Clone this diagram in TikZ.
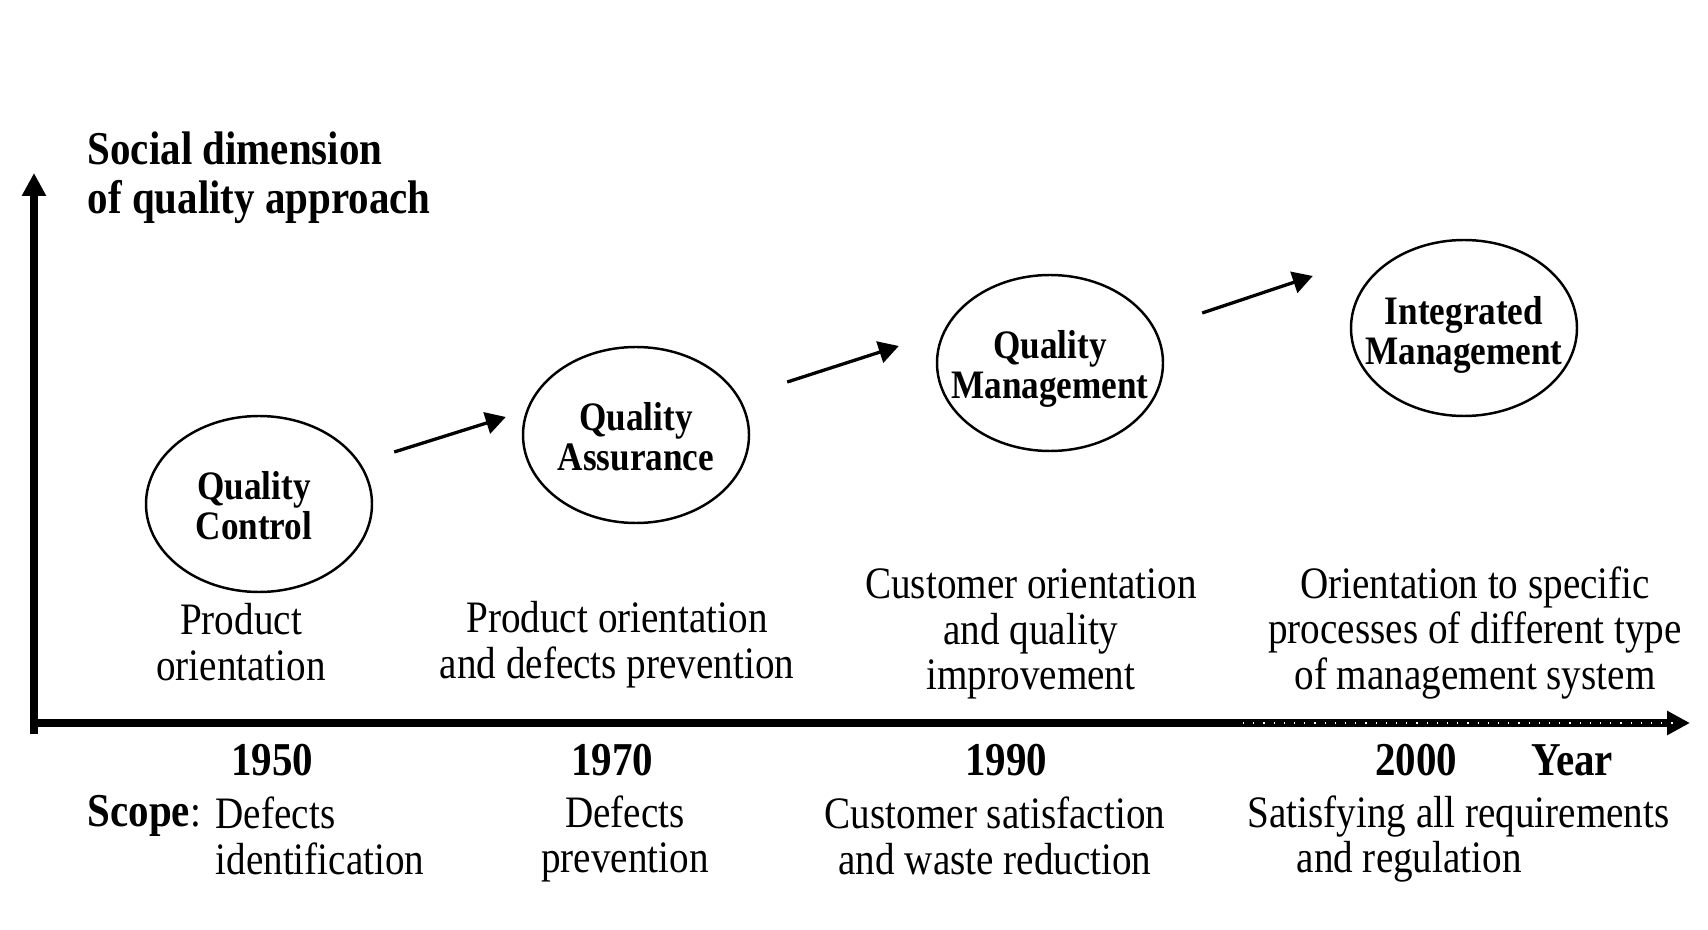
\documentclass[tikz,border=0pt]{standalone}
\usepackage{fontspec}
\setmainfont{Liberation Serif}[FakeStretch=0.87]
\usepackage{tikz}
\usetikzlibrary{arrows.meta,positioning,shapes.geometric,calc}
\newcommand{\headfont}{\fontsize{13.4}{14.0}\selectfont\bfseries}
\newcommand{\bodyfont}{\fontsize{12.8}{13.0}\selectfont}
\newcommand{\stagefont}{\fontsize{11.5}{11.4}\selectfont\bfseries}
\tikzset{
  stage/.style={
    ellipse,draw,line width=0.7pt,minimum width=2.26cm,
    minimum height=1.76cm,inner sep=0pt
  },
  stagetext/.style={align=center,font=\stagefont,inner sep=0pt},
  note/.style={align=center,font=\bodyfont,inner sep=0pt},
  yearlbl/.style={font=\headfont,inner sep=0pt},
  axis/.style={line width=0.075cm,-{Triangle[length=0.23cm,width=0.23cm]}},
  trend/.style={line width=0.033cm,-{Triangle[length=0.2cm,width=0.22cm]}}
}

\begin{document}
\begin{tikzpicture}
  \useasboundingbox (0,0) rectangle (17.08,9.29);

  % axes
  \coordinate (origin) at (0.34,2.06);
  \coordinate (xend) at (16.90,2.06);
  \coordinate (yend) at (0.34,7.56);
  \draw[axis] ([xshift=-0.04cm]origin) -- (xend);
  \draw[axis] ([yshift=-0.11cm]origin) -- (yend);
  \coordinate (dotA) at (12.43,2.06);
  \coordinate (dotB) at (16.80,2.06);
  \draw[white,line width=0.012cm,dash pattern=on 0.012cm off 0.09cm] (dotA) -- (dotB);

  \node[font=\headfont,align=left,anchor=west,inner sep=0pt] (ylabel) at (0.87,7.51)
    {Social dimension\\of quality approach};

  % stages
  \node[stage] (qc) at (2.59,4.25) {};
  \node[stage] (qa) at (6.36,4.94) {};
  \node[stage] (qm) at (10.50,5.66) {};
  \node[stage] (im) at (14.64,6.01) {};
  \node[stagetext] (qct) at ([shift={(-0.05,-0.016)}]qc) {Quality\\Control};
  \node[stagetext] (qat) at ([yshift=-0.016cm]qa) {Quality\\Assurance};
  \node[stagetext] (qmt) at ([yshift=-0.06cm]qm) {Quality\\Management};
  \node[stagetext] (imt) at ([yshift=-0.065cm]im) {Integrated\\Management};

  \draw[trend] ([shift={(0.21,0.52)}]qc.east) -- ([shift={(-0.16,0.18)}]qa.west);
  \draw[trend] ([shift={(0.37,0.53)}]qa.east) -- ([shift={(-0.37,0.17)}]qm.west);
  \draw[trend] ([shift={(0.38,0.50)}]qm.east) -- ([shift={(-0.37,0.52)}]im.west);

  % orientations
  \node[note] (o1) at (2.41,2.87) {Product\\orientation};
  \node[note] (o2) at (6.17,2.84) {Product orientation\\and defects prevention};
  \node[note] (o3) at (10.31,2.95) {Customer orientation\\and quality\\improvement};
  \node[note] (o4) at (14.75,2.96) {Orientation to specific\\processes of different type\\of management system};

  % years
  \node[yearlbl] (y1) at (2.72,1.69) {1950};
  \node[yearlbl] (y2) at (6.12,1.69) {1970};
  \node[yearlbl] (y3) at (10.06,1.69) {1990};
  \node[yearlbl] (y4) at (14.16,1.69) {2000};
  \node[yearlbl] (yr) at (15.72,1.69) {Year};

  % scope
  \node[font=\bodyfont,anchor=west,inner sep=0pt] (scope) at (0.87,1.13) {{\headfont Scope}:};
  \node[note,align=left,anchor=west] (s1) at (2.15,0.93) {Defects\\identification};
  \node[note] (s2) at (6.25,0.90) {Defects\\prevention};
  \node[note] (s3) at (9.95,0.93) {Customer satisfaction\\and waste reduction};
  \node[note,align=left,anchor=west] (s4) at (12.47,0.90)
    {Satisfying all requirements\\\hspace*{0.49cm}and regulation};
\end{tikzpicture}
\end{document}
